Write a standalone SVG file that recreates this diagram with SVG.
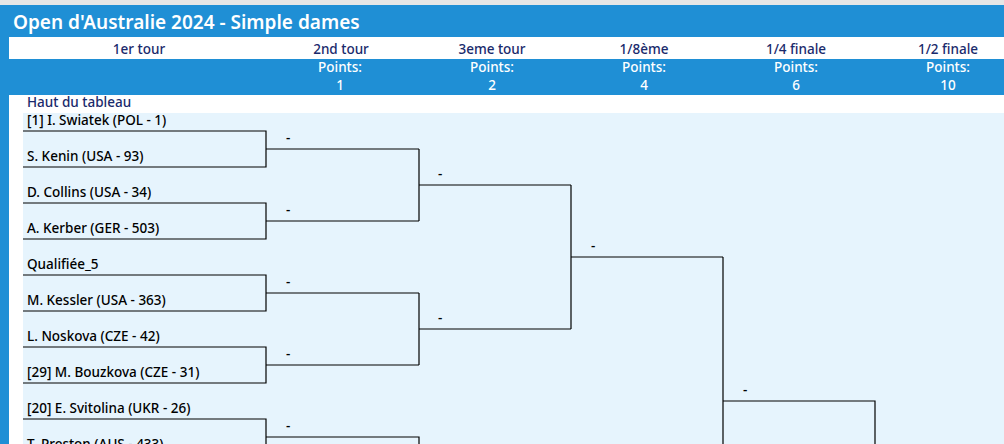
<svg xmlns="http://www.w3.org/2000/svg" width="1004" height="444" viewBox="0 0 1004 444">
<style>
text{font-family:"Noto Sans","Open Sans",sans-serif;font-size:13.5px;font-weight:500}
.h{fill:#1a2a6c;text-anchor:middle}
.w{fill:#fff;text-anchor:middle}
.p{fill:#000}
.d{fill:#000}
#connectors path{stroke:#000;stroke-width:1.2;fill:none}
</style>
<rect x="0" y="0" width="1004" height="444" fill="#1f8fd5"/>
<rect x="0" y="0" width="1004" height="5" fill="#e6e6e6"/>
<text x="13" y="29" fill="#fff" style="font-size:19px;font-weight:600">Open d'Australie 2024 - Simple dames</text>
<rect x="9" y="37" width="995" height="22" fill="#fff"/>
<rect x="9" y="95" width="995" height="18" fill="#fff"/>
<rect x="9" y="113" width="14" height="331" fill="#fff"/>
<rect x="23" y="113" width="981" height="331" fill="#e6f4fd"/>
<g id="header">
<text class="h" x="139" y="54">1er tour</text>
<text class="h" x="341" y="54">2nd tour</text>
<text class="h" x="492" y="54">3eme tour</text>
<text class="h" x="644" y="54">1/8ème</text>
<text class="h" x="796" y="54">1/4 finale</text>
<text class="h" x="948" y="54">1/2 finale</text>
<text class="w" x="340" y="72">Points:</text><text class="w" x="340" y="90">1</text>
<text class="w" x="492" y="72">Points:</text><text class="w" x="492" y="90">2</text>
<text class="w" x="644" y="72">Points:</text><text class="w" x="644" y="90">4</text>
<text class="w" x="796" y="72">Points:</text><text class="w" x="796" y="90">6</text>
<text class="w" x="948" y="72">Points:</text><text class="w" x="948" y="90">10</text>
<text x="27" y="107" fill="#1a2a6c">Haut du tableau</text>
</g>
<g id="players">
<g id="p1"><text class="p" x="27" y="125">[1] I. Swiatek (POL - 1)</text></g>
<g id="p2"><text class="p" x="27" y="161">S. Kenin (USA - 93)</text></g>
<g id="p3"><text class="p" x="27" y="197">D. Collins (USA - 34)</text></g>
<g id="p4"><text class="p" x="27" y="233">A. Kerber (GER - 503)</text></g>
<g id="p5"><text class="p" x="27" y="269">Qualifiée_5</text></g>
<g id="p6"><text class="p" x="27" y="305">M. Kessler (USA - 363)</text></g>
<g id="p7"><text class="p" x="27" y="341">L. Noskova (CZE - 42)</text></g>
<g id="p8"><text class="p" x="27" y="377">[29] M. Bouzkova (CZE - 31)</text></g>
<g id="p9"><text class="p" x="27" y="413">[20] E. Svitolina (UKR - 26)</text></g>
<g id="p10"><text class="p" x="27" y="449">T. Preston (AUS - 433)</text></g>
</g>
<g id="results">
<text class="d" x="286" y="143">-</text>
<text class="d" x="286" y="215">-</text>
<text class="d" x="286" y="287">-</text>
<text class="d" x="286" y="359">-</text>
<text class="d" x="286" y="431">-</text>
<text class="d" x="438" y="179">-</text>
<text class="d" x="438" y="323">-</text>
<text class="d" x="591" y="251">-</text>
<text class="d" x="743" y="395">-</text>
</g>
<g id="connectors">
<path d="M23 131H266V167H23M266 149H419"/>
<path d="M23 203H266V239H23M266 221H419"/>
<path d="M23 275H266V311H23M266 293H419"/>
<path d="M23 347H266V383H23M266 365H419"/>
<path d="M23 419H266V455M266 437H419V460"/>
<path d="M419 149V221M419 185H571"/>
<path d="M419 293V365M419 329H571"/>
<path d="M571 185V329M571 257H723"/>
<path d="M723 257V450M723 401H875V450"/>
</g>
</svg>
